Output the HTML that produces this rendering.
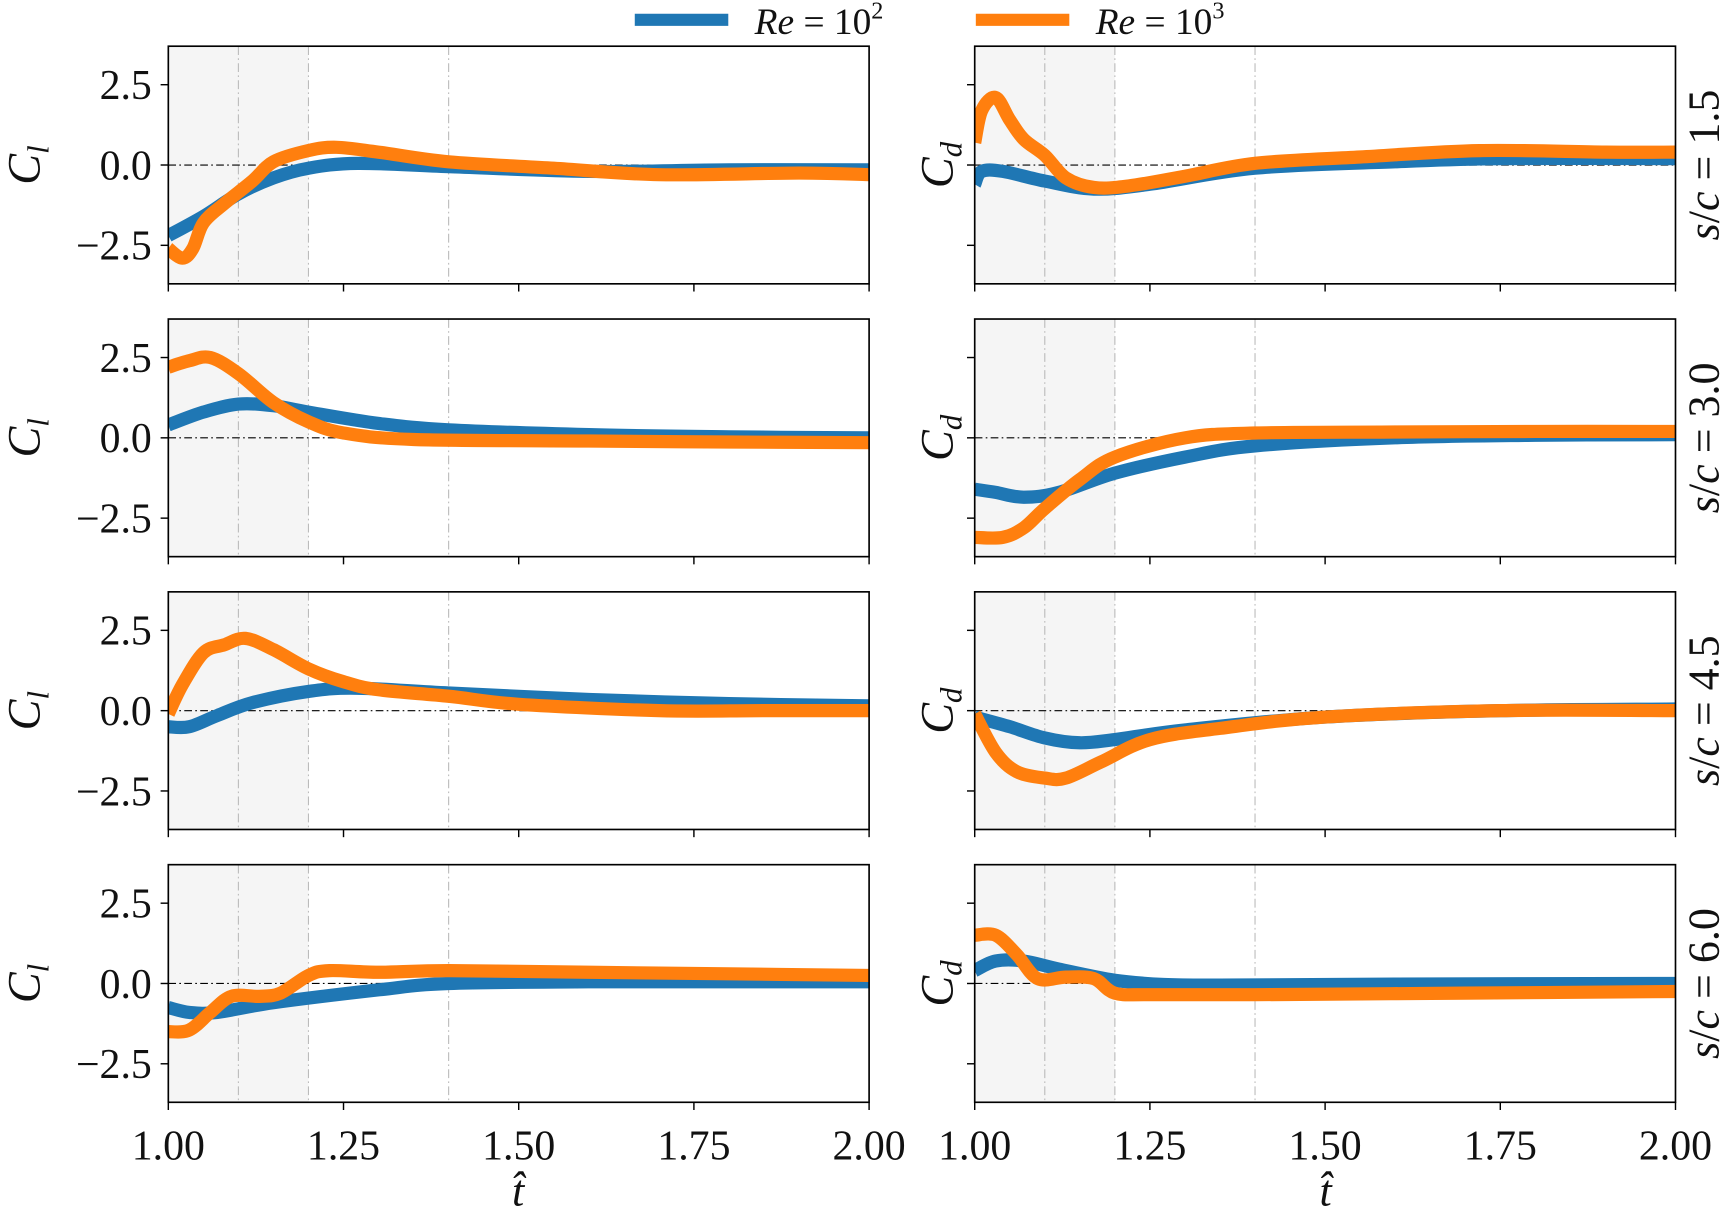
<!DOCTYPE html>
<html><head><meta charset="utf-8"><style>
html,body{margin:0;padding:0;background:#fff;}
svg{display:block;}
text{font-family:"Liberation Serif",serif;fill:#111;}
</style></head><body>
<svg id="s" width="1725" height="1209" viewBox="0 0 1568 1099" preserveAspectRatio="none" xmlns="http://www.w3.org/2000/svg"></svg>
<script>
const S=document.getElementById('s');let h='';
const B='#1f77b4',O='#ff7f0e';
const cols=[153,886],W=637,tops=[42,290,538,786],H=216;
const data=[
[[[1.0,-2.2],[1.05,-1.6],[1.1,-0.9],[1.15,-0.4],[1.2,-0.1],[1.27,0.05],[1.4,-0.05],[1.6,-0.2],[1.8,-0.15],[2.0,-0.15]],
 [[1.0,-2.6],[1.02,-2.9],[1.035,-2.6],[1.05,-1.8],[1.08,-1.2],[1.12,-0.5],[1.15,0.1],[1.2,0.45],[1.24,0.55],[1.3,0.4],[1.4,0.1],[1.55,-0.1],[1.7,-0.3],[1.9,-0.25],[2.0,-0.3]],
 [[1.0,-0.6],[1.01,-0.2],[1.04,-0.2],[1.1,-0.5],[1.17,-0.75],[1.25,-0.6],[1.4,-0.1],[1.6,0.1],[1.75,0.2],[2.0,0.2]],
 [[1.0,0.7],[1.01,1.7],[1.03,2.1],[1.05,1.4],[1.07,0.8],[1.1,0.3],[1.13,-0.4],[1.17,-0.7],[1.22,-0.65],[1.3,-0.35],[1.4,0.05],[1.55,0.25],[1.72,0.45],[1.9,0.4],[2.0,0.4]]],
[[[1.0,0.4],[1.05,0.8],[1.1,1.05],[1.15,1.0],[1.2,0.8],[1.3,0.45],[1.4,0.25],[1.6,0.1],[1.8,0.03],[2.0,0.0]],
 [[1.0,2.2],[1.03,2.4],[1.06,2.5],[1.1,2.0],[1.15,1.1],[1.2,0.5],[1.25,0.15],[1.35,-0.05],[1.6,-0.1],[1.8,-0.13],[2.0,-0.15]],
 [[1.0,-1.6],[1.03,-1.7],[1.07,-1.85],[1.12,-1.7],[1.2,-1.1],[1.3,-0.6],[1.4,-0.25],[1.6,0.0],[1.8,0.08],[2.0,0.1]],
 [[1.0,-3.1],[1.04,-3.1],[1.07,-2.8],[1.1,-2.2],[1.15,-1.3],[1.2,-0.6],[1.3,0.0],[1.4,0.15],[1.6,0.18],[1.8,0.2],[2.0,0.2]]],
[[[1.0,-0.5],[1.03,-0.5],[1.07,-0.15],[1.12,0.25],[1.2,0.6],[1.27,0.7],[1.4,0.55],[1.6,0.35],[1.8,0.22],[2.0,0.15]],
 [[1.0,-0.1],[1.02,0.8],[1.05,1.8],[1.08,2.05],[1.11,2.25],[1.15,1.9],[1.2,1.3],[1.25,0.9],[1.3,0.65],[1.4,0.45],[1.5,0.2],[1.7,0.0],[1.85,0.0],[2.0,0.0]],
 [[1.0,-0.2],[1.05,-0.5],[1.1,-0.85],[1.15,-1.0],[1.2,-0.9],[1.3,-0.6],[1.5,-0.2],[1.75,0.0],[2.0,0.05]],
 [[1.0,-0.1],[1.03,-1.3],[1.06,-1.9],[1.1,-2.1],[1.13,-2.1],[1.18,-1.6],[1.25,-0.9],[1.35,-0.55],[1.5,-0.2],[1.75,0.0],[2.0,0.0]]],
[[[1.0,-0.75],[1.03,-0.9],[1.07,-0.9],[1.15,-0.6],[1.3,-0.2],[1.4,0.0],[1.6,0.05],[1.8,0.05],[2.0,0.05]],
 [[1.0,-1.5],[1.03,-1.45],[1.06,-0.9],[1.09,-0.4],[1.13,-0.4],[1.16,-0.3],[1.2,0.25],[1.23,0.4],[1.3,0.35],[1.4,0.4],[1.6,0.35],[1.8,0.3],[2.0,0.25]],
 [[1.0,0.4],[1.03,0.7],[1.07,0.7],[1.12,0.45],[1.2,0.1],[1.27,-0.03],[1.35,-0.05],[1.6,-0.02],[2.0,0.0]],
 [[1.0,1.5],[1.03,1.5],[1.06,0.9],[1.09,0.15],[1.13,0.2],[1.17,0.15],[1.2,-0.3],[1.25,-0.35],[1.4,-0.35],[1.7,-0.3],[2.0,-0.25]]]];
function path(pts){let s='M'+pts[0][0].toFixed(1)+','+pts[0][1].toFixed(1);
for(let i=0;i<pts.length-1;i++){const p0=pts[Math.max(i-1,0)],p1=pts[i],p2=pts[i+1],p3=pts[Math.min(i+2,pts.length-1)];
const c1=[p1[0]+(p2[0]-p0[0])/6,p1[1]+(p2[1]-p0[1])/6],c2=[p2[0]-(p3[0]-p1[0])/6,p2[1]-(p3[1]-p1[1])/6];
s+=`C${c1[0].toFixed(1)},${c1[1].toFixed(1)} ${c2[0].toFixed(1)},${c2[1].toFixed(1)} ${p2[0].toFixed(1)},${p2[1].toFixed(1)}`;}return s;}
const labs=['1.5','3.0','4.5','6.0'];
for(let r=0;r<4;r++){const T=tops[r],y0=T+108,k=29.2;
 for(let c=0;c<2;c++){const L=cols[c];const X=t=>L+(t-1)*W,Y=v=>y0-v*k;
  h+=`<defs><clipPath id="c${r}${c}"><rect x="${L}" y="${T}" width="${W}" height="${H}"/></clipPath></defs>`;
  h+=`<rect x="${L}" y="${T}" width="${X(1.2)-L}" height="${H}" fill="#f5f5f5"/>`;
  [1.1,1.2,1.4].forEach(t=>h+=`<line x1="${X(t)}" x2="${X(t)}" y1="${T}" y2="${T+H}" stroke="#bbb" stroke-width="1" stroke-dasharray="8,3,1.5,3"/>`);
  h+=`<line x1="${L}" x2="${L+W}" y1="${y0}" y2="${y0}" stroke="#000" stroke-width="1" stroke-dasharray="7,3,1.5,3"/>`;
  const d=data[r];
  [[d[c*2],B],[d[c*2+1],O]].forEach(([p,col])=>h+=`<path d="${path(p.map(q=>[X(q[0]),Y(q[1])]))}" fill="none" stroke="${col}" stroke-width="12" stroke-linejoin="round" clip-path="url(#c${r}${c})"/>`);
  h+=`<rect x="${L}" y="${T}" width="${W}" height="${H}" fill="none" stroke="#000" stroke-width="1.5"/>`;
  [2.5,0,-2.5].forEach(v=>{h+=`<line x1="${L-7}" x2="${L}" y1="${Y(v)}" y2="${Y(v)}" stroke="#000" stroke-width="1.3"/>`;
   if(c==0)h+=`<text x="${L-15}" y="${Y(v)+13}" font-size="38" text-anchor="end">${v==0?'0.0':(v>0?'2.5':'\u22122.5')}</text>`;});
  [1,1.25,1.5,1.75,2].forEach(t=>{h+=`<line x1="${X(t)}" x2="${X(t)}" y1="${T+H}" y2="${T+H+7}" stroke="#000" stroke-width="1.3"/>`;
   if(r==3)h+=`<text x="${X(t)}" y="1054" font-size="38" text-anchor="middle">${t.toFixed(2)}</text>`;});
  const lx=c==0?36:866;
  h+=`<text transform="translate(${lx},${y0}) rotate(-90)" font-size="42" font-style="italic" text-anchor="middle">C<tspan font-size="28" dy="8">${c==0?'l':'d'}</tspan></text>`;
 }
 h+=`<text transform="translate(1562,${y0}) rotate(-90)" font-size="40" text-anchor="middle"><tspan font-style="italic">s</tspan>/<tspan font-style="italic">c</tspan> = ${labs[r]}</text>`;
}
h+=`<text x="471" y="1096" font-size="40" font-style="italic" text-anchor="middle">t\u0302</text><text x="1205" y="1096" font-size="40" font-style="italic" text-anchor="middle">t\u0302</text>`;
h+=`<line x1="577" x2="662" y1="18" y2="18" stroke="${B}" stroke-width="11"/><text x="686" y="31" font-size="34"><tspan font-style="italic">Re</tspan> = 10<tspan font-size="22" dy="-14">2</tspan></text>`;
h+=`<line x1="887" x2="972" y1="18" y2="18" stroke="${O}" stroke-width="11"/><text x="996" y="31" font-size="34"><tspan font-style="italic">Re</tspan> = 10<tspan font-size="22" dy="-14">3</tspan></text>`;
S.innerHTML=h;
</script>
</body></html>
